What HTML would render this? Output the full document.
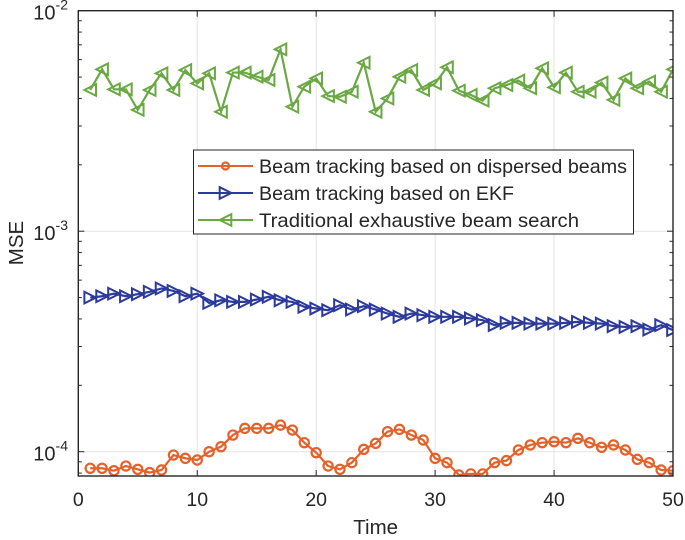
<!DOCTYPE html>
<html><head><meta charset="utf-8"><style>
html,body{margin:0;padding:0;background:#fff;}
svg{display:block;font-family:"Liberation Sans",Arial,sans-serif;}
</style></head><body>
<svg id="chart" width="685" height="540" viewBox="0 0 685 540" xmlns="http://www.w3.org/2000/svg"></svg>
<script>
const timeSteps = Array.from({length:50},(_,i)=>i+1);
const dispersedMSE = [8.41,8.41,8.20,8.61,8.32,8.04,8.26,9.66,9.33,9.17,10.0,10.54,11.9,12.76,12.76,12.76,13.2,12.54,10.99,9.90,8.61,8.32,8.92,10.25,10.91,12.33,12.63,11.9,11.3,9.33,8.92,7.84,7.93,7.93,8.92,9.11,10.18,10.73,10.99,11.1,10.99,11.5,10.99,10.47,10.73,10.18,9.23,8.92,8.26,8.20].map(v=>v*1e-5);
const ekfMSE = [5.00,5.07,5.21,5.07,5.18,5.31,5.50,5.36,5.07,5.21,4.73,4.86,4.78,4.78,4.90,5.04,4.86,4.78,4.54,4.46,4.38,4.62,4.41,4.57,4.41,4.23,4.09,4.23,4.16,4.09,4.09,4.09,4.02,3.95,3.75,3.84,3.84,3.81,3.81,3.81,3.84,3.88,3.84,3.81,3.71,3.68,3.71,3.58,3.75,3.56].map(v=>v*1e-4);
const exhaustiveMSE = [4.37,5.42,4.40,4.40,3.55,4.37,5.20,4.37,5.38,4.68,5.20,3.48,5.24,5.24,5.02,4.85,6.68,3.67,4.52,4.93,4.10,4.07,4.29,5.81,3.48,4.00,5.02,5.38,4.37,4.68,5.54,4.34,4.15,3.91,4.45,4.60,4.82,4.45,5.48,4.49,5.24,4.29,4.29,4.72,3.94,4.93,4.45,4.77,4.29,5.42].map(v=>v*1e-3);
const xTicks = [0,10,20,30,40,50];
const yDecades = [-4,-3,-2];

const X0=78.3, X1=673, Y_TOP=10.7, Y_BOT=476, DEC=220.5;
const LOGMAX=-2;
const xs = v => X0 + (v-0)/(50-0)*(X1-X0);
const ys = v => Y_TOP + (LOGMAX-Math.log10(v))*DEC;
const NS='http://www.w3.org/2000/svg';
const svg=document.getElementById('chart');
function mk(tag,attrs,parent){const e=document.createElementNS(NS,tag);for(const k in attrs)e.setAttribute(k,attrs[k]);(parent||svg).appendChild(e);return e;}

const bg=mk('rect',{x:X0,y:Y_TOP,width:X1-X0,height:Y_BOT-Y_TOP,fill:'#fff'});



const grid=mk('g',{stroke:'#e3e3e3','stroke-width':1});


xTicks.forEach(t=>{if(t>0&&t<50)mk('line',{x1:xs(t),x2:xs(t),y1:Y_TOP,y2:Y_BOT},grid);});
yDecades.forEach(d=>{const y=ys(Math.pow(10,d));if(y>Y_TOP+1)mk('line',{x1:X0,x2:X1,y1:y,y2:y},grid);});

function series(data,color,marker,name){
  const g=mk('g',{});
  
  
  const pts=data.map((v,i)=>[xs(timeSteps[i]),ys(v)]);
  const cp=mk('clipPath',{id:'clip-'+name});
  mk('rect',{x:X0,y:Y_TOP,width:X1-X0,height:Y_BOT-Y_TOP},cp);
  const inner=mk('g',{'clip-path':'url(#clip-'+name+')'},g);
  mk('polyline',{points:pts.map(p=>p.join(',')).join(' '),fill:'none',stroke:color,'stroke-width':2.2},inner);
  pts.forEach(p=>{const m=drawMarker(inner,p[0],p[1],color,marker);
    
    });
}
function drawMarker(parent,x,y,color,type){
  if(type==='o') return mk('circle',{cx:x,cy:y,r:4.6,fill:'none',stroke:color,'stroke-width':2.2},parent);
  const s=5.8;
  if(type==='>') return mk('polygon',{points:`${x-s},${y-s} ${x+s},${y} ${x-s},${y+s}`,fill:'none',stroke:color,'stroke-width':2},parent);
  return mk('polygon',{points:`${x+s},${y-s} ${x-s},${y} ${x+s},${y+s}`,fill:'none',stroke:color,'stroke-width':2},parent);
}
series(exhaustiveMSE,'#6aa843','<','exhaustive-series');
series(ekfMSE,'#2b3a9b','>','ekf-series');
series(dispersedMSE,'#e4622a','o','dispersed-series');

const ax=mk('rect',{x:X0,y:Y_TOP,width:X1-X0,height:Y_BOT-Y_TOP,fill:'none',stroke:'#262626','stroke-width':1.4});



const tg=mk('g',{stroke:'#262626','stroke-width':1});


xTicks.forEach(t=>{const x=xs(t);mk('line',{x1:x,x2:x,y1:Y_BOT,y2:Y_BOT-6},tg);mk('line',{x1:x,x2:x,y1:Y_TOP,y2:Y_TOP+6},tg);
  const lab=mk('text',{x:x,y:506,'text-anchor':'middle','font-size':19.5,fill:'#262626',stroke:'none'});
  lab.textContent=t;
  
  });
for(let d=-5;d<=-2;d++){for(let m=1;m<10;m++){const v=m*Math.pow(10,d);const y=ys(v);if(y<Y_TOP-0.5||y>Y_BOT+0.5)continue;
  const len=m===1?6:3.5;
  mk('line',{x1:X0,x2:X0+len,y1:y,y2:y},tg);mk('line',{x1:X1,x2:X1-len,y1:y,y2:y},tg);}}
yDecades.forEach(d=>{const y=ys(Math.pow(10,d));
  const t=mk('text',{x:68,y:y+9,'text-anchor':'end','font-size':20,fill:'#262626',stroke:'none'});
  
  
  const a=mk('tspan',{},t);a.textContent='10';
  const b=mk('tspan',{dy:-10,'font-size':14},t);b.textContent=String(d);});

const xt=mk('text',{x:(X0+X1)/2,y:534,'text-anchor':'middle','font-size':20.5,fill:'#262626'});
xt.textContent='Time';


const yt=mk('text',{x:0,y:0,'text-anchor':'middle','font-size':20.5,fill:'#262626',transform:'translate(23,243) rotate(-90)'});
yt.textContent='MSE';



const lg=mk('g',{});


mk('rect',{x:193.5,y:150,width:440,height:84,fill:'#fff',stroke:'#262626','stroke-width':1},lg);
const legendLabels=['Beam tracking based on dispersed beams','Beam tracking based on EKF','Traditional exhaustive beam search'];
const legendWidths=[368,255,320];
const legendColors=['#e4622a','#2b3a9b','#6aa843'];
const legendMarkers=['o','>','<'];
legendLabels.forEach((l,i)=>{const y=166+i*27;
  const e=mk('g',{},lg);
  
  
  mk('line',{x1:198,x2:253,y1:y,y2:y,stroke:legendColors[i],'stroke-width':2},e);
  const m=drawMarker(e,225.5,y,legendColors[i],legendMarkers[i]);
  if(legendMarkers[i]==='o')m.setAttribute('r',3.5);
  const t=mk('text',{x:259,y:y+7,'font-size':19.5,fill:'#262626',textLength:legendWidths[i],lengthAdjust:'spacingAndGlyphs'},e);t.textContent=l;});
</script>
</body></html>
